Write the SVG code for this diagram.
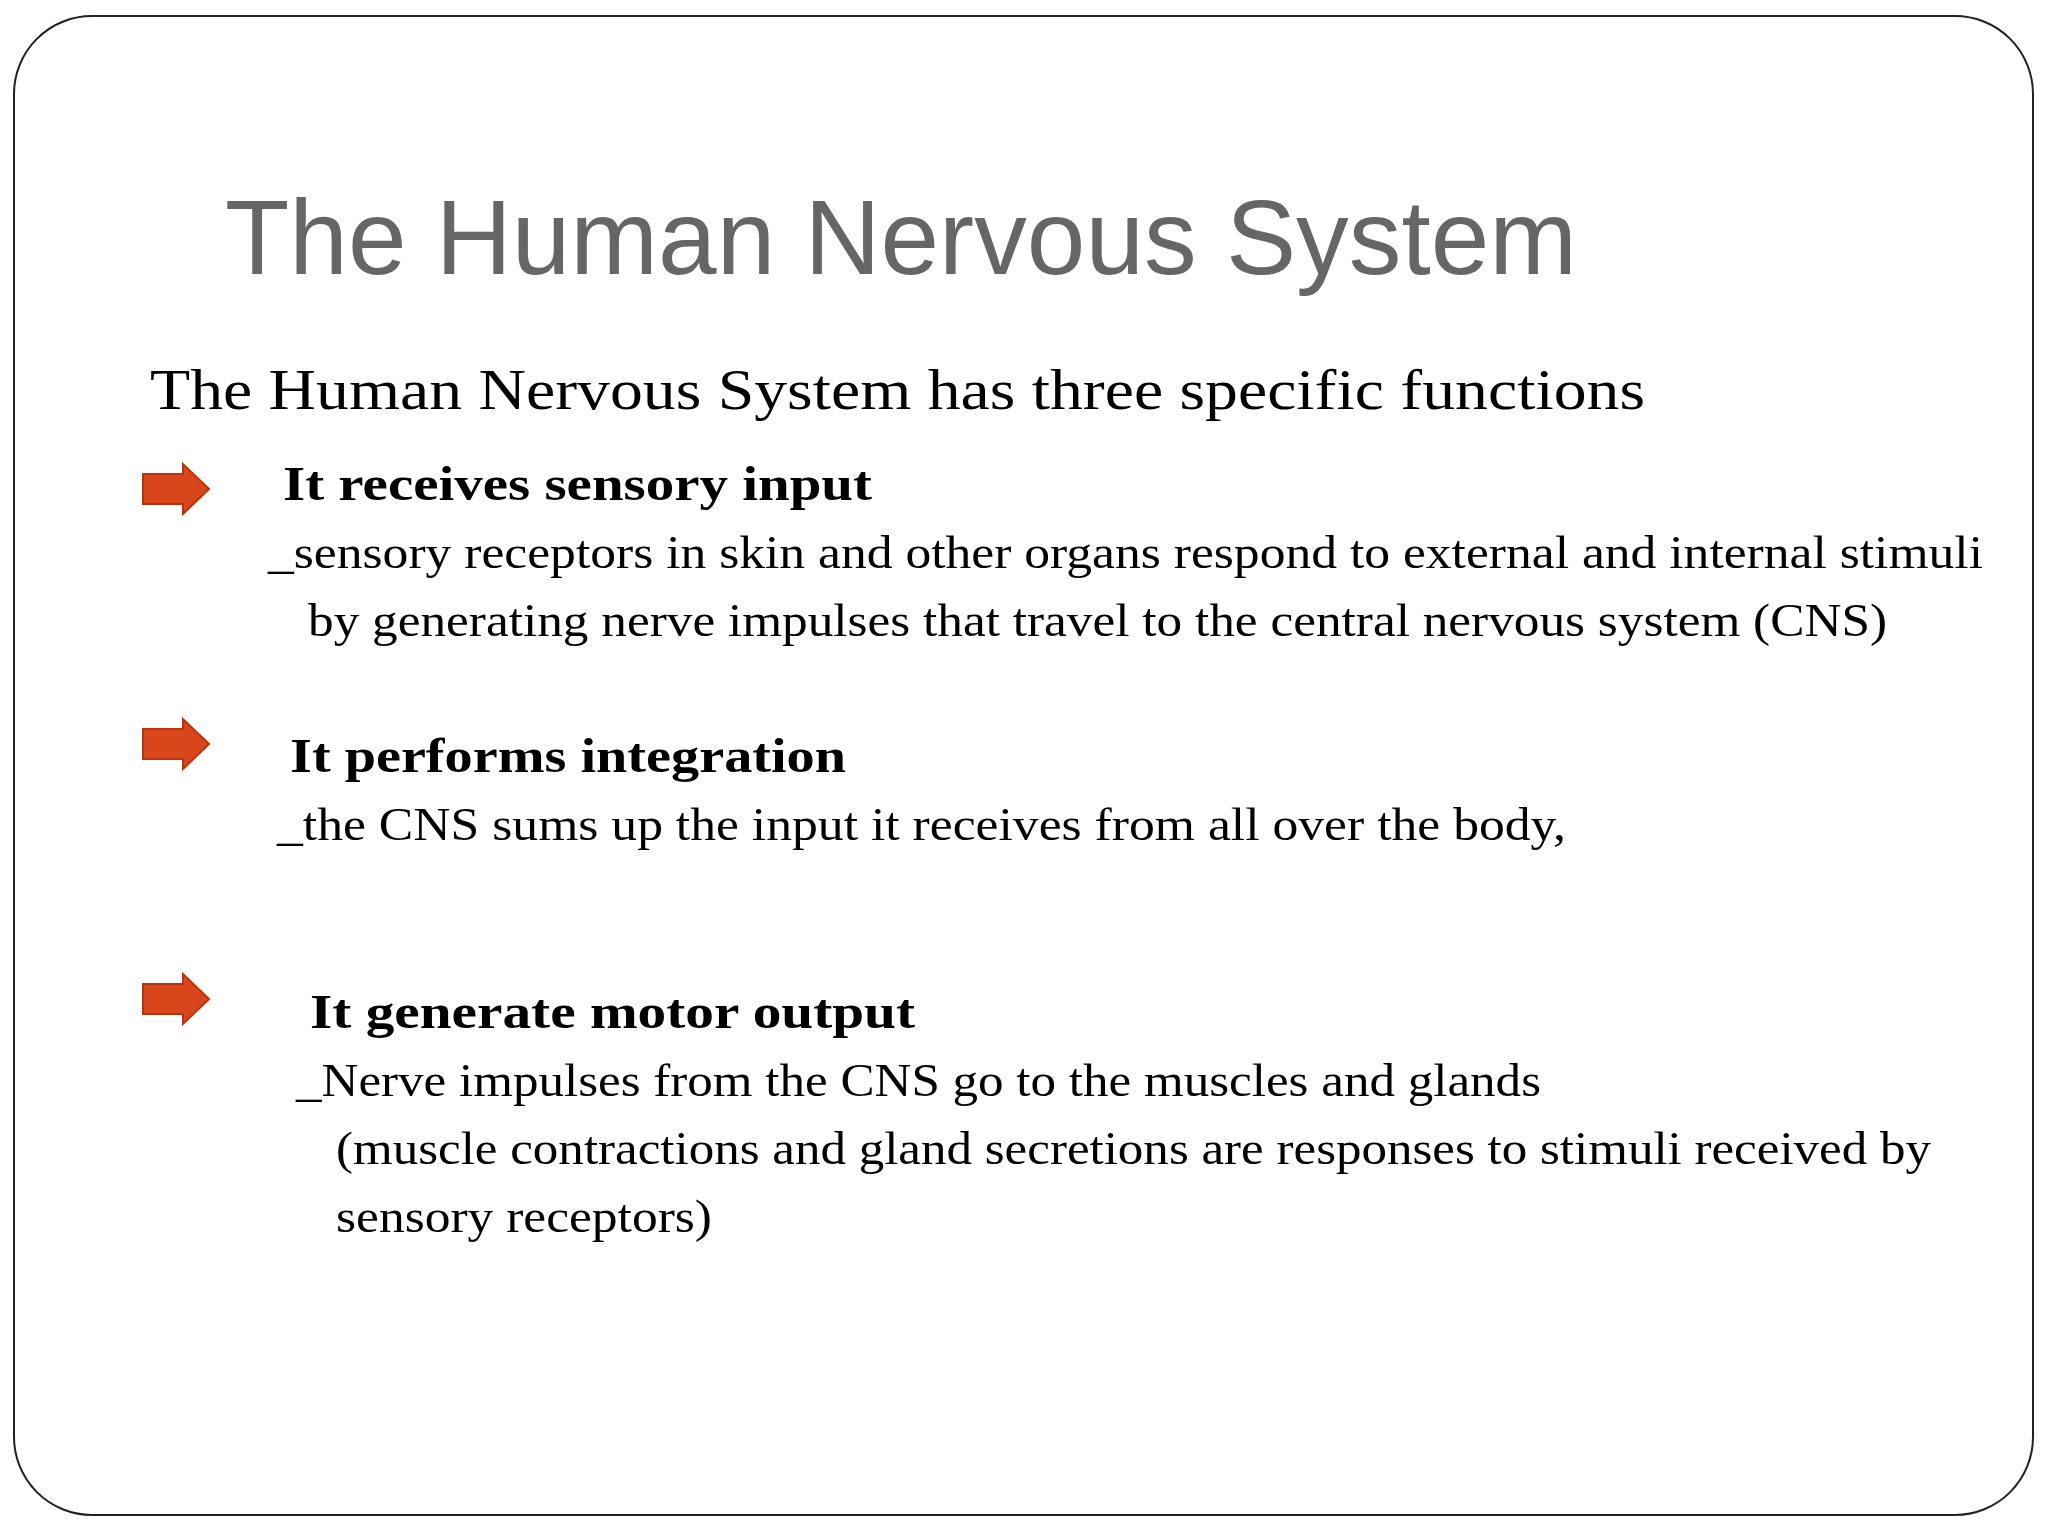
<svg xmlns="http://www.w3.org/2000/svg" width="2048" height="1536" viewBox="0 0 2048 1536">
<style>
.t{font-family:"Liberation Serif",serif;font-size:47px;fill:#000}
.b{font-weight:bold;font-size:49px}
.arr{fill:#d9461b;stroke:#b5350f;stroke-width:2}
</style>
<defs><path id="a" d="M0,10 H40 V0 L66,25 L40,50 V40 H0 Z"/></defs>
<rect width="2048" height="1536" fill="#fff"/>
<rect x="14" y="16" width="2019" height="1499" rx="78" fill="#fff" stroke="#222" stroke-width="2"/>
<g id="title"><text x="225" y="274" font-family="Liberation Sans,Arial,sans-serif" font-size="106" fill="#666" textLength="1352" lengthAdjust="spacingAndGlyphs">The Human Nervous System</text></g>
<g id="subtitle"><text class="t" x="150" y="409" style="font-size:58px" textLength="1495" lengthAdjust="spacingAndGlyphs">The Human Nervous System has three specific functions</text></g>
<g id="item1">
<use href="#a" class="arr" x="143" y="464"/>
<text class="t b" x="283" y="500" textLength="589" lengthAdjust="spacingAndGlyphs">It receives sensory input</text>
<text class="t" x="268" y="568" textLength="1715" lengthAdjust="spacingAndGlyphs">_sensory receptors in skin and other organs respond to external and internal stimuli</text>
<text class="t" x="308" y="636" textLength="1579" lengthAdjust="spacingAndGlyphs">by generating nerve impulses that travel to the central nervous system (CNS)</text>
</g>
<g id="item2">
<use href="#a" class="arr" x="143" y="719"/>
<text class="t b" x="290" y="772" textLength="556" lengthAdjust="spacingAndGlyphs">It performs integration</text>
<text class="t" x="277" y="840" textLength="1289" lengthAdjust="spacingAndGlyphs">_the CNS sums up the input it receives from all over the body,</text>
</g>
<g id="item3">
<use href="#a" class="arr" x="143" y="974"/>
<text class="t b" x="310" y="1028" textLength="605" lengthAdjust="spacingAndGlyphs">It generate motor output</text>
<text class="t" x="296" y="1096" textLength="1245" lengthAdjust="spacingAndGlyphs">_Nerve impulses from the CNS go to the muscles and glands</text>
<text class="t" x="336" y="1164" textLength="1595" lengthAdjust="spacingAndGlyphs">(muscle contractions and gland secretions are responses to stimuli received by</text>
<text class="t" x="336" y="1232" textLength="376" lengthAdjust="spacingAndGlyphs">sensory receptors)</text>
</g>
<g id="connectors"/>
</svg>
